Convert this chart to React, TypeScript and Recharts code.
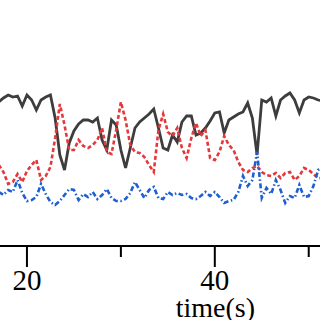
import React from "react";
import { LineChart, Line, XAxis, YAxis } from "recharts";

// Trecho de 17–51 s de três séries de sinal, amostradas a cada 0,5 s.
const tempos = [
  17, 17.5, 18, 18.5, 19, 19.5, 20, 20.5, 21, 21.5,
  22, 22.5, 23, 23.5, 24, 24.5, 25, 25.5, 26, 26.5,
  27, 27.5, 28, 28.5, 29, 29.5, 30, 30.5, 31, 31.5,
  32, 32.5, 33, 33.5, 34, 34.5, 35, 35.5, 36, 36.5,
  37, 37.5, 38, 38.5, 39, 39.5, 40, 40.5, 41, 41.5,
  42, 42.5, 43, 43.5, 44, 44.5, 45, 45.5, 46, 46.5,
  47, 47.5, 48, 48.5, 49, 49.5, 50, 50.5, 51, 51.5,
];

const serieCinza = [
  72, 74, 75.5, 74.5, 75, 70, 75.5, 73, 68, 73,
  74.5, 75.5, 64, 45.5, 38, 51.5, 57.5, 61, 63, 63,
  62, 64, 53, 48, 63, 60.5, 48, 39, 49, 59,
  62, 64, 66, 68.5, 59, 49, 48, 55.5, 52, 62,
  65, 65, 55.5, 56.5, 59, 62.5, 66.5, 67, 56.5, 63,
  64.5, 66, 67, 71.5, 64, 45.5, 73, 72, 74, 65,
  73, 75, 76.5, 73, 66.5, 73, 74.5, 74, 73, 72.5,
];

const serieVermelha = [
  40.5, 37, 31, 32, 36, 32, 37.5, 40.5, 43, 33,
  35, 39.5, 54, 71, 60.5, 48, 48, 53, 50, 49,
  50.5, 53, 59, 47, 46, 58, 72, 63, 50.5, 47,
  46.5, 44.5, 40.5, 37, 58, 66, 57, 55, 59, 49,
  44, 54, 61.5, 55, 58, 44, 43, 47, 55, 50.5,
  48, 42, 38, 37, 39, 40, 37, 35.5, 35, 36.5,
  34, 36.5, 37, 33, 35, 39, 38, 36, 34, 34,
];

const serieAzul = [
  27, 25.5, 28, 27, 33, 26.5, 22.5, 23, 24.5, 31,
  26, 22, 20.5, 22.5, 25.5, 28.5, 28, 23, 26, 24.5,
  27, 23.5, 25.5, 28.5, 24, 22.5, 22.5, 23.5, 26.5, 32,
  28, 24, 28, 29.5, 24, 23.5, 27, 25.5, 26.5, 25.5,
  26, 24, 23.5, 25, 27, 25, 27, 24.5, 21.5, 22.5,
  23, 27, 35, 30, 33, 47, 24, 29, 26, 33,
  28, 21.5, 25, 24, 30.5, 24.5, 25, 30, 38, 39,
];

const ticksX = [20, 30, 40, 50];
const ticksPrincipais = [20, 40];

const dados = tempos.map((t, i) => ({
  t,
  cinza: serieCinza[i],
  vermelha: serieVermelha[i],
  azul: serieAzul[i],
}));

const FONTE = '"Liberation Serif", "Times New Roman", serif';

function TickTempo({ x, y, payload }: { x: number; y: number; payload: { value: number } }) {
  const principal = ticksPrincipais.includes(payload.value);
  return (
    <g>
      <line x1={x} x2={x} y1={y} y2={y + (principal ? 21 : 11)} stroke="#000" strokeWidth={2} />
      {principal && (
        <text x={x} y={y + 44} textAnchor="middle" fontSize={29} fontFamily={FONTE} fill="#000">
          {payload.value}
        </text>
      )}
    </g>
  );
}

function RotuloEixo({ viewBox }: { viewBox?: { x: number; y: number; width: number; height: number } }) {
  if (!viewBox) return null;
  return (
    <text
      x={viewBox.x + viewBox.width * 0.673}
      y={viewBox.y + 71}
      textAnchor="middle"
      fontSize={28}
      fontFamily={FONTE}
      fill="#000"
    >
      time(s)
    </text>
  );
}

export default function App() {
  return (
    <div style={{ position: "absolute", left: 0, top: 0, background: "#fff" }}>
      <LineChart width={320} height={320} data={dados} margin={{ top: 46, right: 0, bottom: 0, left: 0 }}>
        <XAxis
          dataKey="t"
          type="number"
          domain={[17.13, 51.2]}
          allowDataOverflow
          ticks={ticksX}
          height={74}
          tickSize={0}
          tickMargin={0}
          tickLine={false}
          axisLine={{ stroke: "#000", strokeWidth: 2 }}
          tick={(p: any) => <TickTempo {...p} />}
          label={{ content: (p: any) => <RotuloEixo {...p} /> }}
        />
        <YAxis hide domain={[0, 100]} />
        <Line type="linear" dataKey="cinza" stroke="#3d3d3d" strokeWidth={2.8} dot={false} isAnimationActive={false} />
        <Line type="linear" dataKey="vermelha" stroke="#e5383b" strokeWidth={2.6} strokeDasharray="4 2.5" dot={false} isAnimationActive={false} />
        <Line type="linear" dataKey="azul" stroke="#1f5fd0" strokeWidth={2.6} strokeDasharray="5 2.5 1.5 2.5" dot={false} isAnimationActive={false} />
      </LineChart>
    </div>
  );
}
